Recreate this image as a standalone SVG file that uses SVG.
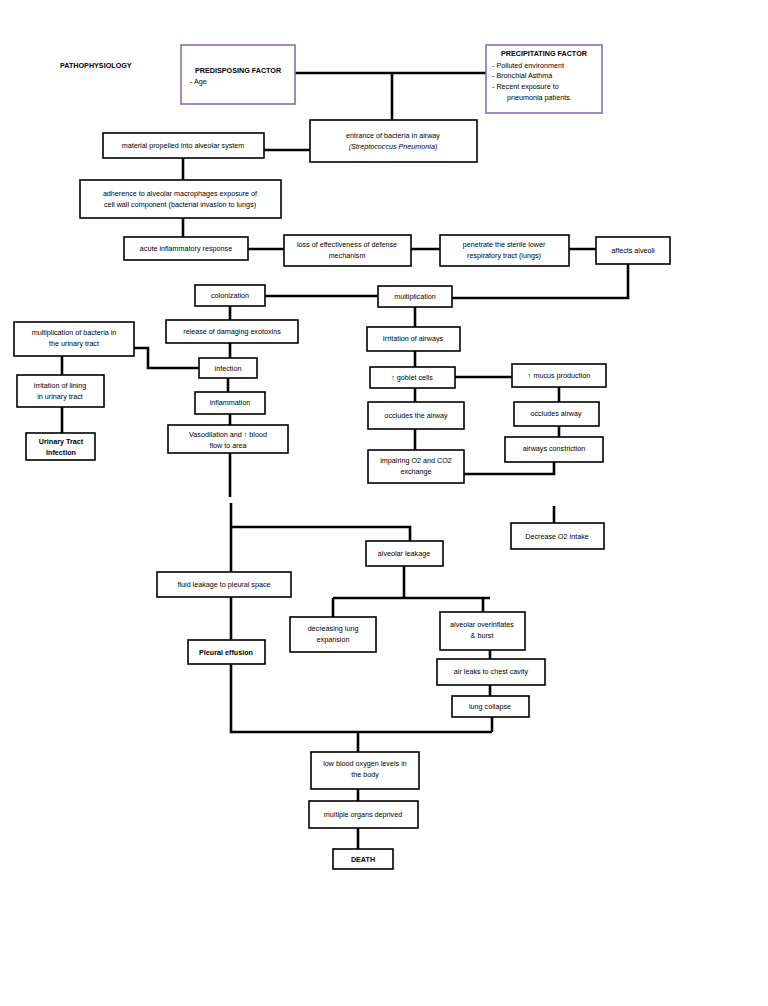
<svg xmlns="http://www.w3.org/2000/svg" width="768" height="1006" viewBox="0 0 768 1006">
<style>
.b{fill:#fff;stroke:#000;stroke-width:1.6}
.p{fill:#fff;stroke:#8a6bb8;stroke-width:1.6}
.c{fill:none;stroke:#000;stroke-width:2.6}
text{font-family:"Liberation Sans",Arial,sans-serif;font-size:7.2px;fill:#000}
.m{text-anchor:middle}
.h{font-weight:bold}
</style>
<rect width="768" height="1006" fill="#fff"/>
<text x="60" y="68" class="h" font-size="9">PATHOPHYSIOLOGY</text>
<g id="connectors">
<path class="c" d="M295 73H491M392 73V120M264 150H310M183 158V180M183 218V237M248 249H284M411 249H440M569 249H596M628 264V298H452M265 296H378M230 306V320M230 343V358M228 378V392M230 414V425M134 348H148V368H199M62 356V375M62 407V433M230 453V497M231 503V732H492M231 527H410V541M415 307V327M415 351V367M455 377H512M415 388V402M415 429V450M559 387V402M559 426V437M464 474H554V462M554 506V523M404 566V598M333 598H490M333 598V617M483 598V612M490 650V659M490 685V696M492 717V732M358 732V752M358 789V801M358 828V849"/>
</g>
<g id="predisposing"><rect class="p" x="181" y="45" width="114" height="59"/><text x="195" y="73" class="h">PREDISPOSING FACTOR</text><text x="190" y="84">-     Age</text></g>
<g id="precipitating"><rect class="p" x="486" y="45" width="116" height="68"/><text x="544" y="56" class="m h">PRECIPITATING FACTOR</text><text x="492" y="68">-     Polluted environment</text><text x="492" y="78">-     Bronchial Asthma</text><text x="492" y="89">-     Recent exposure to</text><text x="507" y="100">pneumonia patients.</text></g>
<g id="entrance"><rect class="b" x="310" y="120" width="167" height="42"/><text x="393" y="138" class="m">entrance of bacteria in airway</text><text x="393" y="149" class="m" font-style="italic">(Streptococcus Pneumonia)</text></g>
<g id="material"><rect class="b" x="103" y="133" width="161" height="25"/><text x="183" y="148" class="m">material propelled into alveolar system</text></g>
<g id="adherence"><rect class="b" x="80" y="180" width="201" height="38"/><text x="180" y="196" class="m">adherence to alveolar macrophages exposure of</text><text x="180" y="207" class="m">cell wall component (bacterial invasion to lungs)</text></g>
<g id="acute"><rect class="b" x="124" y="237" width="124" height="23"/><text x="186" y="251" class="m">acute inflammatory response</text></g>
<g id="loss"><rect class="b" x="284" y="235" width="127" height="31"/><text x="347" y="247" class="m">loss of effectiveness of defense</text><text x="347" y="258" class="m">mechanism</text></g>
<g id="penetrate"><rect class="b" x="440" y="235" width="129" height="31"/><text x="504" y="247" class="m">penetrate the sterile lower</text><text x="504" y="258" class="m">respiratory tract (lungs)</text></g>
<g id="affects"><rect class="b" x="596" y="237" width="74" height="27"/><text x="633" y="253" class="m">affects alveoli</text></g>
<g id="colonization"><rect class="b" x="195" y="285" width="70" height="21"/><text x="230" y="298" class="m">colonization</text></g>
<g id="multiplication"><rect class="b" x="378" y="286" width="74" height="21"/><text x="415" y="299" class="m">multiplication</text></g>
<g id="release"><rect class="b" x="166" y="320" width="132" height="23"/><text x="232" y="334" class="m">release of damaging exotoxins</text></g>
<g id="urinary-mult"><rect class="b" x="14" y="322" width="120" height="34"/><text x="74" y="335" class="m">multiplication of bacteria in</text><text x="74" y="346" class="m">the urinary tract</text></g>
<g id="infection"><rect class="b" x="199" y="358" width="58" height="20"/><text x="228" y="371" class="m">infection</text></g>
<g id="irritation-lining"><rect class="b" x="17" y="375" width="87" height="32"/><text x="60" y="388" class="m">irritation of lining</text><text x="60" y="399" class="m">in urinary tract</text></g>
<g id="inflammation"><rect class="b" x="195" y="392" width="70" height="22"/><text x="230" y="405" class="m">inflammation</text></g>
<g id="uti"><rect class="b" x="26" y="433" width="69" height="27"/><text x="61" y="444" class="m h">Urinary Tract</text><text x="61" y="455" class="m h">Infection</text></g>
<g id="vasodilation"><rect class="b" x="168" y="425" width="120" height="28"/><text x="228" y="437" class="m">Vasodilation and ↑ blood</text><text x="228" y="448" class="m">flow to area</text></g>
<g id="irritation-airways"><rect class="b" x="367" y="327" width="93" height="24"/><text x="413" y="341" class="m">Irritation of airways</text></g>
<g id="goblet"><rect class="b" x="370" y="367" width="85" height="21"/><text x="412" y="380" class="m">↑ goblet cells</text></g>
<g id="mucus"><rect class="b" x="512" y="364" width="94" height="23"/><text x="559" y="378" class="m">↑ mucus production</text></g>
<g id="occludes-the"><rect class="b" x="368" y="402" width="96" height="27"/><text x="416" y="418" class="m">occludes the airway</text></g>
<g id="occludes"><rect class="b" x="514" y="402" width="85" height="24"/><text x="556" y="416" class="m">occludes airway</text></g>
<g id="constriction"><rect class="b" x="505" y="437" width="98" height="25"/><text x="554" y="451" class="m">airways constriction</text></g>
<g id="impairing"><rect class="b" x="368" y="450" width="96" height="33"/><text x="416" y="463" class="m">impairing O2 and CO2</text><text x="416" y="474" class="m">exchange</text></g>
<g id="decrease"><rect class="b" x="511" y="523" width="93" height="26"/><text x="557" y="539" class="m">Decrease O2 intake</text></g>
<g id="alveolar-leakage"><rect class="b" x="366" y="541" width="77" height="25"/><text x="404" y="556" class="m">alveolar leakage</text></g>
<g id="fluid"><rect class="b" x="157" y="572" width="134" height="25"/><text x="224" y="587" class="m">fluid leakage to pleural space</text></g>
<g id="decreasing"><rect class="b" x="290" y="617" width="86" height="35"/><text x="333" y="631" class="m">decreasing lung</text><text x="333" y="642" class="m">expansion</text></g>
<g id="overinflates"><rect class="b" x="440" y="612" width="85" height="38"/><text x="482" y="627" class="m">alveolar overinflates</text><text x="482" y="638" class="m">&amp; burst</text></g>
<g id="pleural"><rect class="b" x="188" y="640" width="77" height="24"/><text x="226" y="655" class="m h">Pleural effusion</text></g>
<g id="airleaks"><rect class="b" x="437" y="659" width="108" height="26"/><text x="491" y="674" class="m">air leaks to chest cavity</text></g>
<g id="collapse"><rect class="b" x="452" y="696" width="77" height="21"/><text x="490" y="709" class="m">lung collapse</text></g>
<g id="lowblood"><rect class="b" x="311" y="752" width="108" height="37"/><text x="365" y="766" class="m">low blood oxygen levels in</text><text x="365" y="777" class="m">the body</text></g>
<g id="organs"><rect class="b" x="309" y="801" width="109" height="27"/><text x="363" y="817" class="m">multiple organs deprived</text></g>
<g id="death"><rect class="b" x="333" y="849" width="60" height="20"/><text x="363" y="862" class="m h">DEATH</text></g>
</svg>
